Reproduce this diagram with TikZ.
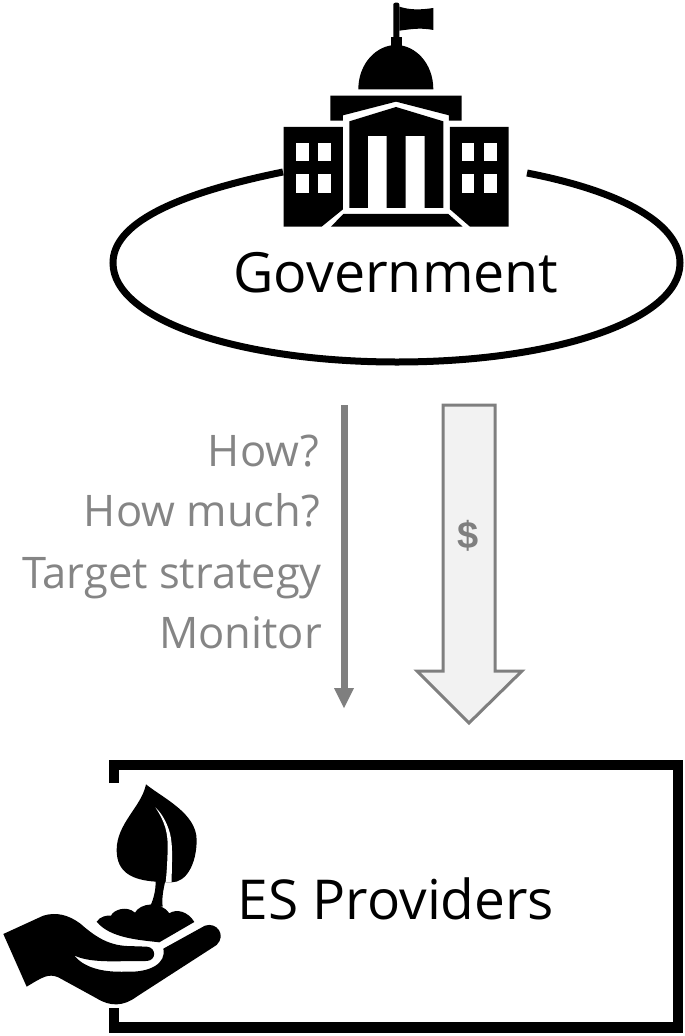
\documentclass[tikz,border=0pt]{standalone}
\usepackage{fontspec}
\setmainfont{Open Sans}
\newfontfamily\arialf{Liberation Sans}
\definecolor{gtext}{HTML}{858585}
\definecolor{garrow}{HTML}{7F7F7F}
\definecolor{gfill}{HTML}{F2F2F2}
\tikzset{
  govtext/.style={font=\fontsize{55.5}{60}\selectfont,inner sep=0pt,text=black},
  bigtext/.style={font=\fontsize{55}{60}\selectfont,inner sep=0pt,text=black},
  grtext/.style={font=\fontsize{43.5}{48}\selectfont,inner sep=0pt,text=gtext,anchor=base east},
  ring/.style={line width=7pt,black},
  frame/.style={line width=10.5pt,black},
  icon/.style={fill=black,draw=none},
  cut/.style={fill=white,draw=none},
}
\begin{document}
\begin{tikzpicture}[x=1pt,y=-1pt]
\useasboundingbox (0,0) rectangle (685,1036);
% ellipse
\draw[ring] (283,172) .. controls (170,195) and (113,225) .. (113,263)
  .. controls (113,320) and (240,362) .. (397,362)
  .. controls (555,362) and (680,320) .. (680,263)
  .. controls (680,225) and (625,192) .. (527,173);
\node[govtext,anchor=base] (gov) at (396,292) {Government};
% building
\begin{scope}[shift={(270,0)},x=0.3333pt,y=-0.3333pt]
\fill[icon,rounded corners=2pt] (370,8) rectangle (388,118);
\fill[icon] (388,20) .. controls (420,30) and (450,30) .. (490,24) -- (490,90)
  .. controls (450,82) and (420,88) .. (388,92) -- cycle;
\fill[icon] (362,112) rectangle (396,140);
\fill[icon] (265,268) .. controls (265,190) and (320,135) .. (378,135)
  .. controls (436,135) and (490,190) .. (490,268) -- cycle;
\fill[icon] (181,287) -- (575,287) -- (575,362) -- (537,362) -- (537,346) -- (378,305)
  -- (219,346) -- (219,362) -- (181,362) -- cycle;
\fill[icon] (238,364) -- (378,321) -- (520,364) -- (520,624) -- (464,624) -- (464,408)
  -- (407,408) -- (407,624) -- (350,624) -- (350,408) -- (294,408) -- (294,624)
  -- (238,624) -- cycle;
\fill[icon] (41,381) -- (219,381) -- (219,628) -- (155,680) -- (41,680) -- cycle;
\fill[icon] (540,381) -- (716,381) -- (716,680) -- (600,680) -- (540,628) -- cycle;
\foreach \xa/\xb in {79/116,144/182,576/613,642/680}
  \foreach \ya/\yb in {428/484,522/578}
    \fill[cut] (\xa,\ya) rectangle (\xb,\yb);
\fill[icon] (220,642) -- (535,642) -- (578,680) -- (183,680) -- cycle;
\end{scope}
% grey labels
\node[grtext] (how) at (319,466) {How?};
\node[grtext] (howmuch) at (320,526) {How much?};
\node[grtext] (target) at (322,588) {Target strategy};
\node[grtext] (monitor) at (322,648) {Monitor};
% thin arrow
\coordinate (thinA) at (344,405);
\coordinate (thinB) at (344,690);
\draw[line width=7pt,garrow] (thinA) -- (thinB);
\fill[garrow] (334,688) -- (354,688) -- (344,708) -- cycle;
% block arrow
\draw[line width=3pt,garrow,fill=gfill,miter limit=10] (443,405) -- (495,405) -- (495,671) -- (522,671)
  -- (469,723) -- (417,671) -- (443,671) -- cycle;
\node[font=\arialf\bfseries\fontsize{38}{40}\selectfont,text=garrow,inner sep=0pt] (dollar) at (468,536) {\$};
% frame
\draw[frame] (114,783) -- (114,765) -- (678,765) -- (678,1027.5) -- (114,1027.5) -- (114,1008);
\node[bigtext,anchor=base] (es) at (396,919) {ES Providers};
% hand and plant
\begin{scope}[shift={(0,750)},x=0.3333pt,y=-0.3333pt]
\fill[icon] (438,103) .. controls (490,145) and (590,190) .. (590,270)
  .. controls (590,340) and (560,397) .. (515,397) -- (495,397)
  .. controls (490,420) and (485,445) .. (488,470) -- (450,470)
  .. controls (462,445) and (467,420) .. (467,395)
  .. controls (400,390) and (350,370) .. (350,300)
  .. controls (350,220) and (425,170) .. (438,103) -- cycle;
\fill[cut] (466,172) .. controls (495,215) and (505,250) .. (503,300)
  .. controls (502,340) and (500,370) .. (497,397) -- (515,397)
  .. controls (515,340) and (520,290) .. (510,250)
  .. controls (500,215) and (485,190) .. (466,172) -- cycle;
\fill[icon] (290,515) .. controls (300,500) and (320,495) .. (333,497)
  .. controls (340,480) and (380,465) .. (405,488)
  .. controls (420,460) and (480,450) .. (508,490)
  .. controls (530,475) and (565,485) .. (583,516)
  -- (478,577) .. controls (420,570) and (330,565) .. (290,515) -- cycle;
\fill[icon] (10,552) -- (130,497) .. controls (170,485) and (205,495) .. (240,520)
  .. controls (280,555) and (320,585) .. (380,588)
  -- (440,590) .. controls (470,592) and (470,632) .. (440,633)
  -- (340,634) .. controls (290,634) and (250,630) .. (222,616)
  .. controls (250,650) and (300,668) .. (380,665)
  .. controls (450,668) and (500,640) .. (490,596)
  -- (615,527) .. controls (650,515) and (680,555) .. (650,585)
  -- (410,740) .. controls (370,770) and (330,770) .. (290,745)
  -- (175,682) .. controls (145,670) and (130,680) .. (80,710) -- cycle;
\end{scope}
\end{tikzpicture}
\end{document}
